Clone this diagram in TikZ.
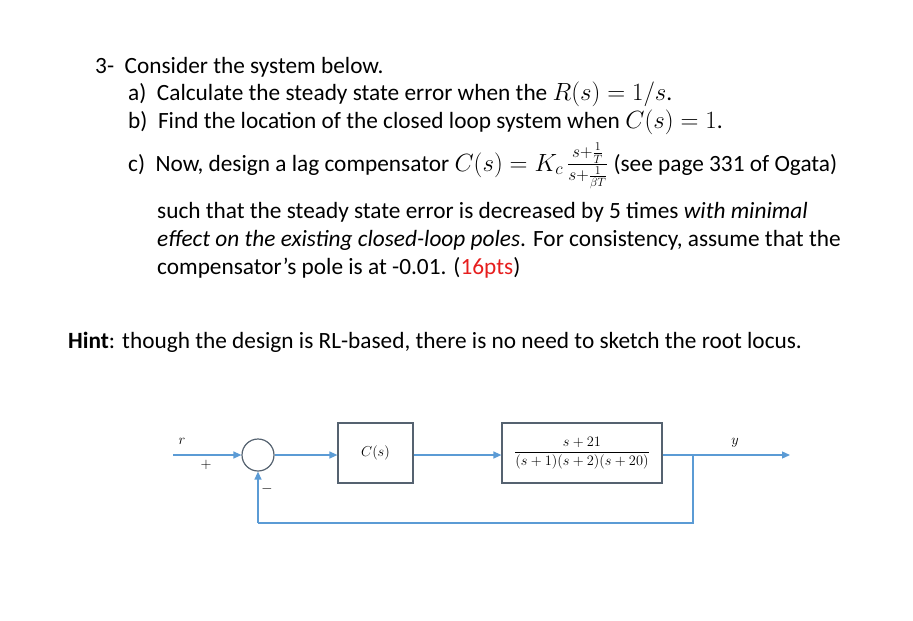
\documentclass[tikz,border=0pt]{standalone}
\usepackage{amsmath}
\usepackage{fontspec}
\setmainfont{Carlito}
\usetikzlibrary{arrows.meta}
\definecolor{ln}{RGB}{91,155,213}
\definecolor{bx}{RGB}{85,98,112}
\definecolor{pts}{RGB}{230,30,30}
\tikzset{txt/.style={anchor=base west,inner sep=0pt,font=\fontsize{23.3}{26}\selectfont},
 blk/.style={draw=bx,line width=1.2pt,minimum height=60pt,inner sep=0pt},
 sig/.style={draw=ln,line width=1.3pt,-{Triangle[length=8pt,width=7pt]}},
 wire/.style={draw=ln,line width=1.3pt},
 lbl/.style={inner sep=0pt,font=\fontsize{15}{16}\selectfont}}
\begin{document}
\begin{tikzpicture}[x=1pt,y=-1pt]
\useasboundingbox (0,0) rectangle (913,621);
\node[txt] (l0) at (95,73) {3-\ \ Consider the system below.};
\node[txt] (la) at (128,100) {a)\ \ Calculate the steady state error when the $R(s)=1/s$.};
\node[txt] (lb) at (128,128) {b)\ \ Find the location of the closed loop system when $C(s)=1$.};
\node[txt] (lc) at (128,171) {c)\ \ Now, design a lag compensator $C(s)=K_c\,\frac{s+\frac{1}{T}}{s+\frac{1}{\beta T}}$ (see page 331 of Ogata)};
\node[txt] (ld) at (157,218) {such that the steady state error is decreased by 5 times \textit{with minimal}};
\node[txt] (le) at (157,246) {\textit{effect on the existing closed-loop poles}. For consistency, assume that the};
\node[txt] (lf) at (157,274) {compensator's pole is at -0.01. (\textcolor{pts}{16pts})};
\node[txt] (lh) at (68,348) {\textbf{Hint}: though the design is RL-based, there is no need to sketch the root locus.};
% diagram
\coordinate (in) at (173,455);
\node[circle,draw=bx,line width=1.2pt,minimum size=32pt,inner sep=0pt] (sum) at (258,455) {};
\node[blk,minimum width=75pt] (c) at (375.5,453) {\fontsize{14}{16}\selectfont$C(s)$};
\node[blk,minimum width=160pt] (g) at (582,453) {\fontsize{15}{17}\selectfont$\dfrac{s+21}{(s+1)(s+2)(s+20)}$};
\coordinate (tap) at (693,455);
\coordinate (out) at (790,455);
\coordinate (bot) at (693,523);
\coordinate (botl) at (258,523);
\draw[sig] (in) -- (sum);
\draw[sig] (sum) -- (c.west |- sum);
\draw[sig] (c.east |- sum) -- (g.west |- sum);
\draw[sig] (g.east |- sum) -- (out);
\draw[wire] (tap) -- (bot) -- (botl);
\draw[sig] (botl) -- (sum.south);
\node[lbl] (r) at (182,441) {$r$};
\node[lbl] (y) at (735,443) {$y$};
\node[lbl] (p) at (206,465) {$+$};
\node[lbl] (m) at (267,489) {$-$};
\end{tikzpicture}
\end{document}
